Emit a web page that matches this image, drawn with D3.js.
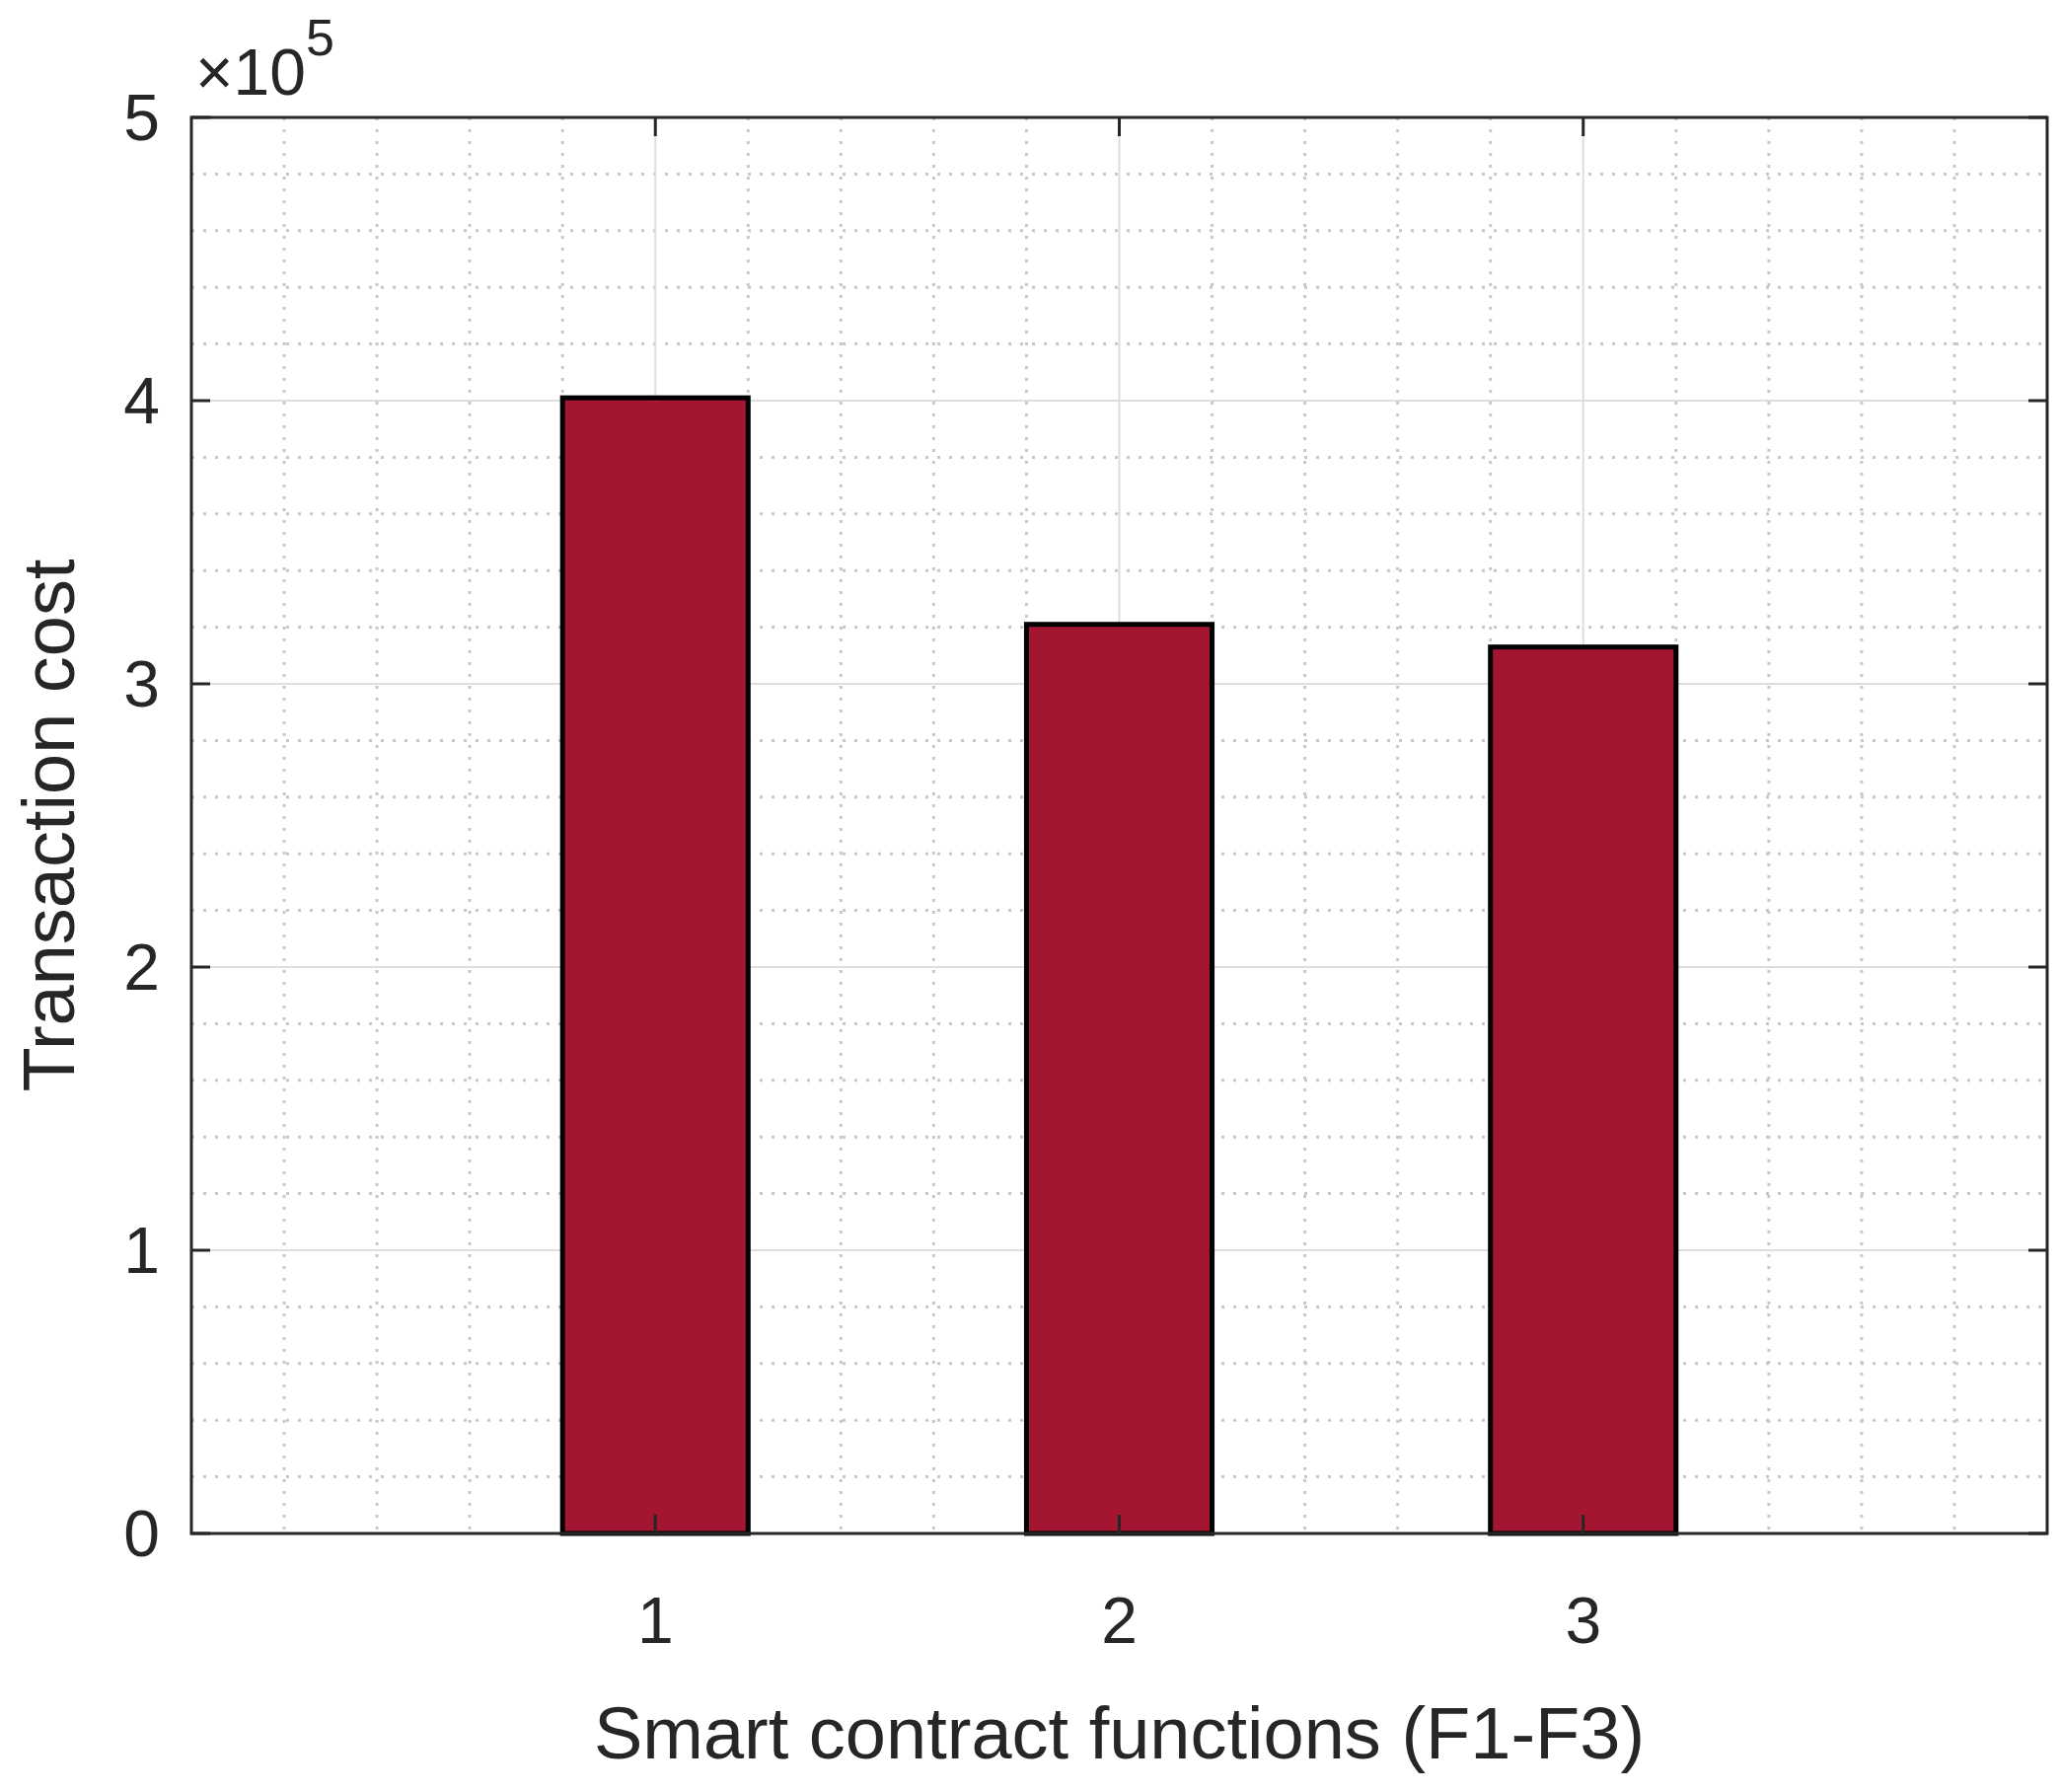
<!DOCTYPE html>
<html><head><meta charset="utf-8">
<script src="https://cdn.jsdelivr.net/npm/d3@7"></script>
<style>body{margin:0;background:#fff}text{font-family:"Liberation Sans",Arial,sans-serif;fill:#262626}</style>
</head><body><svg id="c" width="2088" height="1816"></svg>
<script>
const categories = [1, 2, 3];
const values = [401000, 321000, 313000];
const yTicks = [0, 1, 2, 3, 4, 5];
const xLabel = "Smart contract functions (F1-F3)";
const yLabel = "Transaction cost";

const svg = d3.select("#c");
const L = 194, T = 119, R = 2075, B = 1554;
const x = d3.scaleLinear().domain([0, 4]).range([L, R]);
const y = d3.scaleLinear().domain([0, 500000]).range([B, T]);
const g = svg.append("g");

// minor grid
const xMinor = d3.range(0.2, 4, 0.2).filter(v => Math.abs(v - Math.round(v)) > 1e-6);
const yMinor = d3.range(20000, 500000, 20000).filter(v => v % 100000 !== 0);
g.selectAll(".mx").data(xMinor).join("line").attr("x1", d => x(d)).attr("x2", d => x(d))
  .attr("y1", T).attr("y2", B).attr("stroke", "#c8c8c8").attr("stroke-width", 3).attr("stroke-dasharray", "3,9");
g.selectAll(".my").data(yMinor).join("line").attr("y1", d => y(d)).attr("y2", d => y(d))
  .attr("x1", L).attr("x2", R).attr("stroke", "#c8c8c8").attr("stroke-width", 3).attr("stroke-dasharray", "3,9");
// major grid
g.selectAll(".Mx").data(categories).join("line").attr("x1", d => x(d)).attr("x2", d => x(d))
  .attr("y1", T).attr("y2", B).attr("stroke", "#dedede").attr("stroke-width", 2);
g.selectAll(".My").data(yTicks.slice(1, 5)).join("line").attr("y1", d => y(d * 1e5)).attr("y2", d => y(d * 1e5))
  .attr("x1", L).attr("x2", R).attr("stroke", "#dedede").attr("stroke-width", 2);

// bars
const bw = x(0.4) - x(0);
g.selectAll(".bar").data(categories).join("rect")
  .attr("x", d => x(d) - bw / 2).attr("width", bw)
  .attr("y", (d, i) => y(values[i])).attr("height", (d, i) => y(0) - y(values[i]))
  .attr("fill", "#a31530").attr("stroke", "#000").attr("stroke-width", 5);

// box
g.append("rect").attr("x", L).attr("y", T).attr("width", R - L).attr("height", B - T)
  .attr("fill", "none").attr("stroke", "#262626").attr("stroke-width", 3);

// ticks (inward, both sides)
const tl = 19;
categories.forEach(d => {
  g.append("line").attr("x1", x(d)).attr("x2", x(d)).attr("y1", B).attr("y2", B - tl).attr("stroke", "#262626").attr("stroke-width", 3);
  g.append("line").attr("x1", x(d)).attr("x2", x(d)).attr("y1", T).attr("y2", T + tl).attr("stroke", "#262626").attr("stroke-width", 3);
});
yTicks.forEach(d => {
  g.append("line").attr("y1", y(d * 1e5)).attr("y2", y(d * 1e5)).attr("x1", L).attr("x2", L + tl).attr("stroke", "#262626").attr("stroke-width", 3);
  g.append("line").attr("y1", y(d * 1e5)).attr("y2", y(d * 1e5)).attr("x1", R).attr("x2", R - tl).attr("stroke", "#262626").attr("stroke-width", 3);
});

// tick labels
g.selectAll(".xt").data(categories).join("text").attr("x", d => x(d)).attr("y", 1665)
  .attr("text-anchor", "middle").attr("font-size", 66).text(d => d);
g.selectAll(".yt").data(yTicks).join("text").attr("x", 162).attr("y", d => y(d * 1e5) + 23)
  .attr("text-anchor", "end").attr("font-size", 66).text(d => d);

// exponent
const ex = g.append("text").attr("x", 198).attr("y", 96).attr("font-size", 66);
ex.append("tspan").text("×10");
ex.append("tspan").attr("dy", -40).attr("font-size", 52).text("5");

// axis labels
g.append("text").attr("x", x(2)).attr("y", 1782).attr("text-anchor", "middle").attr("font-size", 74).text(xLabel);
g.append("text").attr("transform", `translate(75,${(T + B) / 2}) rotate(-90)`).attr("text-anchor", "middle")
  .attr("font-size", 74).text(yLabel);
</script></body></html>
